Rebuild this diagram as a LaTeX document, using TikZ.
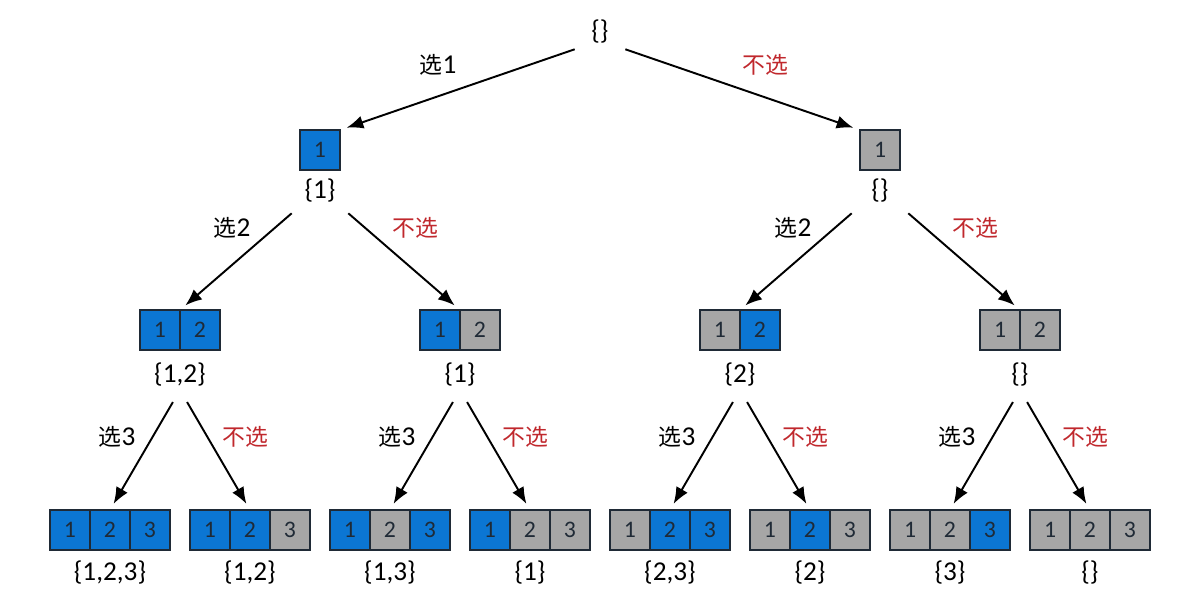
\documentclass[tikz,border=0pt]{standalone}
\usepackage{fontspec}
\setmainfont{Carlito}
\newfontfamily\cjk{Noto Sans CJK SC}[Scale=0.84]
\usetikzlibrary{arrows.meta,positioning,fit}
\definecolor{selblue}{HTML}{0B76D3}
\definecolor{selgray}{HTML}{A6A6A6}
\definecolor{celldark}{HTML}{1F2A36}
\definecolor{skipred}{HTML}{C0282D}
\newcommand{\pickit}[1]{{\cjk 选}#1}
\newcommand{\skipit}{{\cjk 不选}}

\begin{document}
\begin{tikzpicture}[x=0.02cm,y=-0.02cm,node distance=1pt,>={Latex[length=9.5pt,width=7.5pt]}]
\tikzset{
 cell/.style={draw=celldark,line width=0.6pt,minimum size=0.8cm,inner sep=0pt,outer sep=0pt,text=celldark,font=\fontsize{13.5}{13.5}\selectfont},
 bcell/.style={cell,fill=selblue},
 gcell/.style={cell,fill=selgray},
 group/.style={inner sep=0pt,outer sep=0pt},
 setlbl/.style={inner sep=2pt,minimum width=0.8cm,font=\fontsize{15.5}{15.5}\selectfont},
 pick/.style={font=\fontsize{15.5}{15.5}\selectfont},
 nopick/.style={pick,text=skipred},
 arrow/.style={->,line width=1.1pt,draw=black,shorten <=3pt,shorten >=4pt}
}
\useasboundingbox (0,0) rectangle (1200,600);

% root
\node[setlbl] (root) at (600,32) {\{\}};

% level 1
\node[bcell] (s1) at (320,150) {1};
\node[group,fit=(s1)] (s) {};
\node[setlbl,below=3pt of s] (sl) {\{1\}};
\node[gcell] (n1) at (880,150) {1};
\node[group,fit=(n1)] (n) {};
\node[setlbl,below=3pt of n] (nl) {\{\}};

% level 2
\node[bcell] (ss1) at (160,330) {1};
\node[bcell,right=0pt of ss1] (ss2) {2};
\node[group,fit=(ss1)(ss2)] (ss) {};
\node[setlbl,below=5pt of ss] (ssl) {\{1,2\}};
\node[bcell] (sn1) at (440,330) {1};
\node[gcell,right=0pt of sn1] (sn2) {2};
\node[group,fit=(sn1)(sn2)] (sn) {};
\node[setlbl,below=5pt of sn] (snl) {\{1\}};
\node[gcell] (ns1) at (720,330) {1};
\node[bcell,right=0pt of ns1] (ns2) {2};
\node[group,fit=(ns1)(ns2)] (ns) {};
\node[setlbl,below=5pt of ns] (nsl) {\{2\}};
\node[gcell] (nn1) at (1000,330) {1};
\node[gcell,right=0pt of nn1] (nn2) {2};
\node[group,fit=(nn1)(nn2)] (nn) {};
\node[setlbl,below=5pt of nn] (nnl) {\{\}};

% level 3
\node[bcell] (sss1) at (70,530) {1};
\node[bcell,right=0pt of sss1] (sss2) {2};
\node[bcell,right=0pt of sss2] (sss3) {3};
\node[setlbl,below=4pt of sss2] (sssl) {\{1,2,3\}};
\node[bcell] (ssn1) at (210,530) {1};
\node[bcell,right=0pt of ssn1] (ssn2) {2};
\node[gcell,right=0pt of ssn2] (ssn3) {3};
\node[setlbl,below=4pt of ssn2] (ssnl) {\{1,2\}};
\node[bcell] (sns1) at (350,530) {1};
\node[gcell,right=0pt of sns1] (sns2) {2};
\node[bcell,right=0pt of sns2] (sns3) {3};
\node[setlbl,below=4pt of sns2] (snsl) {\{1,3\}};
\node[bcell] (snn1) at (490,530) {1};
\node[gcell,right=0pt of snn1] (snn2) {2};
\node[gcell,right=0pt of snn2] (snn3) {3};
\node[setlbl,below=4pt of snn2] (snnl) {\{1\}};
\node[gcell] (nss1) at (630,530) {1};
\node[bcell,right=0pt of nss1] (nss2) {2};
\node[bcell,right=0pt of nss2] (nss3) {3};
\node[setlbl,below=4pt of nss2] (nssl) {\{2,3\}};
\node[gcell] (nsn1) at (770,530) {1};
\node[bcell,right=0pt of nsn1] (nsn2) {2};
\node[gcell,right=0pt of nsn2] (nsn3) {3};
\node[setlbl,below=4pt of nsn2] (nsnl) {\{2\}};
\node[gcell] (nns1) at (910,530) {1};
\node[gcell,right=0pt of nns1] (nns2) {2};
\node[bcell,right=0pt of nns2] (nns3) {3};
\node[setlbl,below=4pt of nns2] (nnsl) {\{3\}};
\node[gcell] (nnn1) at (1050,530) {1};
\node[gcell,right=0pt of nnn1] (nnn2) {2};
\node[gcell,right=0pt of nnn2] (nnn3) {3};
\node[setlbl,below=4pt of nnn2] (nnnl) {\{\}};

% branch labels
\node[pick] (p1) at (438,65) {\pickit{1}};
\node[nopick] (q1) at (765,65) {\skipit};
\node[pick] (p2a) at (232,228) {\pickit{2}};
\node[nopick] (q2a) at (415,228) {\skipit};
\node[pick] (p2b) at (793,228) {\pickit{2}};
\node[nopick] (q2b) at (975,228) {\skipit};
\node[pick] (p3a) at (117,437) {\pickit{3}};
\node[nopick] (q3a) at (245,437) {\skipit};
\node[pick] (p3b) at (397,437) {\pickit{3}};
\node[nopick] (q3b) at (525,437) {\skipit};
\node[pick] (p3c) at (677,437) {\pickit{3}};
\node[nopick] (q3c) at (805,437) {\skipit};
\node[pick] (p3d) at (957,437) {\pickit{3}};
\node[nopick] (q3d) at (1085,437) {\skipit};

% connectors
\draw[arrow] (root.south west) -- (s.north east);
\draw[arrow] (root.south east) -- (n.north west);
\draw[arrow,shorten <=6pt] (sl.south west) -- (ss.north);
\draw[arrow,shorten <=6pt] (sl.south east) -- (sn.north);
\draw[arrow,shorten <=6pt] (nl.south west) -- (ns.north);
\draw[arrow,shorten <=6pt] (nl.south east) -- (nn.north);
\draw[arrow,shorten <=8pt] (ssl.south) -- (sss2.north);
\draw[arrow,shorten <=8pt] (ssl.south) -- (ssn2.north);
\draw[arrow,shorten <=8pt] (snl.south) -- (sns2.north);
\draw[arrow,shorten <=8pt] (snl.south) -- (snn2.north);
\draw[arrow,shorten <=8pt] (nsl.south) -- (nss2.north);
\draw[arrow,shorten <=8pt] (nsl.south) -- (nsn2.north);
\draw[arrow,shorten <=8pt] (nnl.south) -- (nns2.north);
\draw[arrow,shorten <=8pt] (nnl.south) -- (nnn2.north);
\end{tikzpicture}
\end{document}
